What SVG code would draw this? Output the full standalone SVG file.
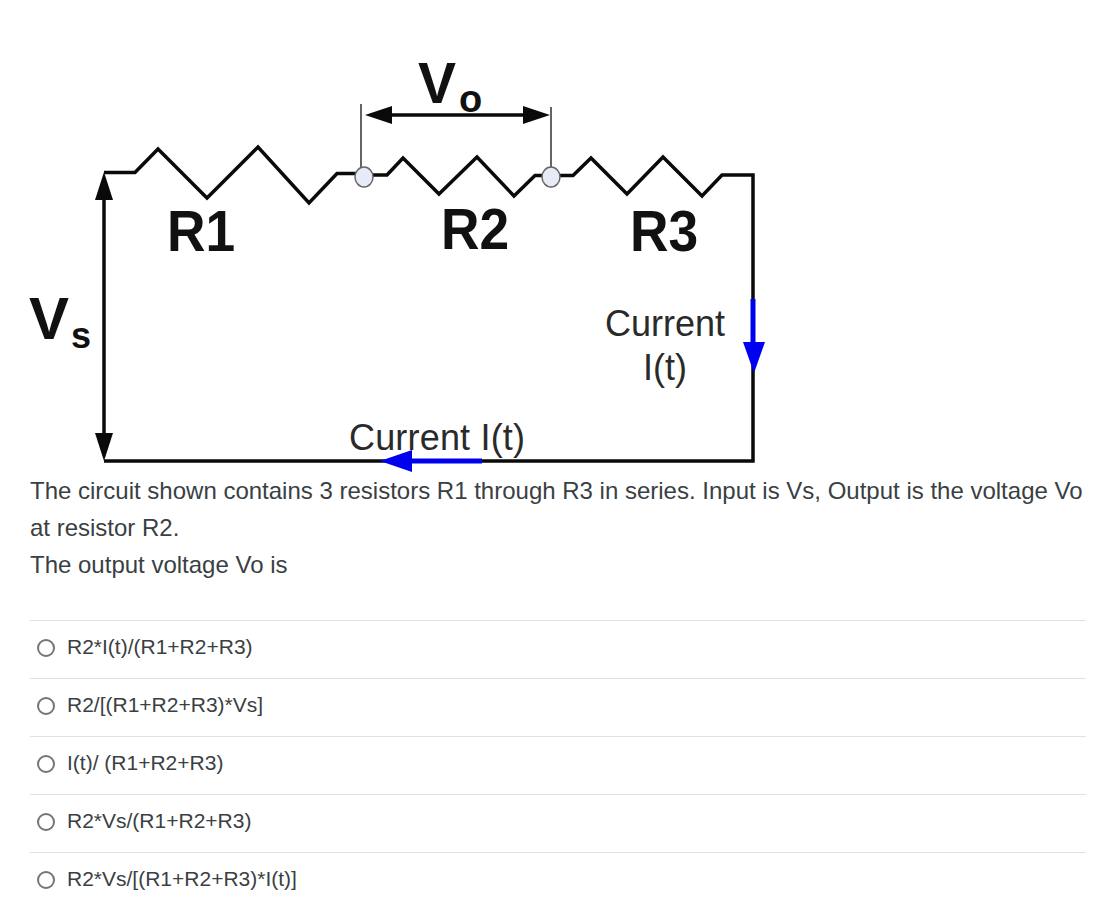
<svg xmlns="http://www.w3.org/2000/svg" width="1093" height="918" viewBox="0 0 1093 918">
<style>
.w{fill:none;stroke:#0a0a0a;stroke-width:3.5;stroke-linejoin:miter}
.t{fill:none;stroke:#333;stroke-width:1.5}
.h{fill:#0a0a0a}
.b{fill:#0000f0}
.bl{stroke:#0000f0;stroke-width:5;fill:none}
.n{fill:#e6ebf7;stroke:#666;stroke-width:1.5}
.big{font-family:"Liberation Sans",Arial,sans-serif;font-weight:700;fill:#111}
.lab{font-family:"Liberation Sans",Arial,sans-serif;font-size:36px;fill:#2a2a2a}
.q{font-family:"Liberation Sans",Arial,sans-serif;font-size:24px;fill:#3a3f44}
.o{font-family:"Liberation Sans",Arial,sans-serif;font-size:21px;fill:#3a3f44}
.r{fill:#fff;stroke:#757575;stroke-width:2}
.sep{stroke:#dee2e6;stroke-width:1}
</style>
<rect width="1093" height="918" fill="#fff"/>
<g id="connectors">
<path class="w" d="M104 172.500H135L158 149L207 198L258 147L309 203L337 173.500H364"/>
<path class="w" d="M364 175H387L403 158L439 194L477 157L514 196L535 175.500H573L591 158L627 194L663 157L702 196L722 175H753V461H104"/>
<path class="w" d="M104 198V435"/>
<path class="w" d="M390 115H525"/>
<path class="t" d="M361 104V168M551 107V168"/>
<path class="h" d="M104 172L113 200H95Z"/>
<path class="h" d="M104 461L95 433H113Z"/>
<path class="h" d="M365 115L392 106V124Z"/>
<path class="h" d="M550 115L523 106V124Z"/>
<path class="bl" d="M753 299V345"/>
<path class="b" d="M754 373L743 342H765Z"/>
<path class="bl" d="M482 461H410"/>
<path class="b" d="M380 461L412 450V472Z"/>
</g>
<g id="node-left"><ellipse class="n" cx="364" cy="177" rx="9" ry="10"/></g>
<g id="node-right"><ellipse class="n" cx="551" cy="177" rx="9" ry="10"/></g>
<g id="label-vo"><text class="big" x="418" y="103" font-size="57">V</text><text class="big" x="459" y="112" font-size="38">o</text></g>
<g id="label-vs"><text class="big" x="29" y="339" font-size="60">V</text><text class="big" x="71" y="348" font-size="36">s</text></g>
<g id="label-r1"><text class="big" font-size="58" transform="translate(167 250.500) scale(.92 1)">R1</text></g>
<g id="label-r2"><text class="big" font-size="58" transform="translate(441 249) scale(.92 1)">R2</text></g>
<g id="label-r3"><text class="big" font-size="58" transform="translate(630 250.500) scale(.92 1)">R3</text></g>
<g id="label-current-right"><text class="lab" x="665" y="336" text-anchor="middle">Current</text><text class="lab" x="665" y="380" text-anchor="middle">I(t)</text></g>
<g id="label-current-bottom"><text class="lab" x="349" y="450" textLength="176">Current I(t)</text></g>
<g id="question">
<text class="q" x="30" y="499">The circuit shown contains 3 resistors R1 through R3 in series. Input is Vs, Output is the voltage Vo</text>
<text class="q" x="30" y="536">at resistor R2.</text>
<text class="q" x="30" y="573">The output voltage Vo is</text>
</g>
<g id="option-1"><line class="sep" x1="30" x2="1086" y1="620.500" y2="620.500"/><circle class="r" cx="46" cy="648" r="8"/><text class="o" x="67" y="654">R2*I(t)/(R1+R2+R3)</text></g>
<g id="option-2"><line class="sep" x1="30" x2="1086" y1="678.500" y2="678.500"/><circle class="r" cx="46" cy="706" r="8"/><text class="o" x="67" y="712">R2/[(R1+R2+R3)*Vs]</text></g>
<g id="option-3"><line class="sep" x1="30" x2="1086" y1="736.500" y2="736.500"/><circle class="r" cx="46" cy="764" r="8"/><text class="o" x="67" y="770">I(t)/ (R1+R2+R3)</text></g>
<g id="option-4"><line class="sep" x1="30" x2="1086" y1="794.500" y2="794.500"/><circle class="r" cx="46" cy="822" r="8"/><text class="o" x="67" y="828">R2*Vs/(R1+R2+R3)</text></g>
<g id="option-5"><line class="sep" x1="30" x2="1086" y1="852.500" y2="852.500"/><circle class="r" cx="46" cy="880" r="8"/><text class="o" x="67" y="886">R2*Vs/[(R1+R2+R3)*I(t)]</text></g>
</svg>
